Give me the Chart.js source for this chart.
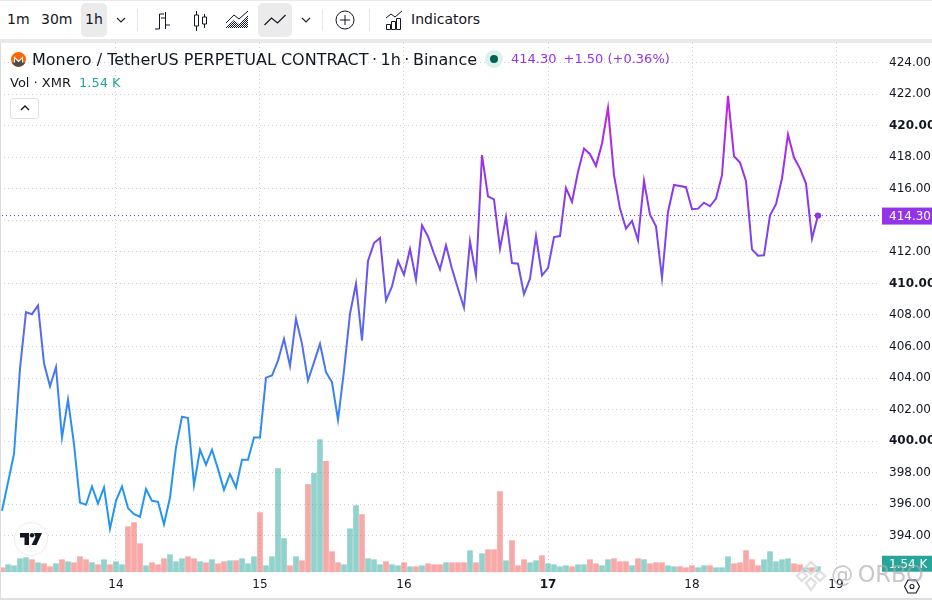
<!DOCTYPE html>
<html>
<head>
<meta charset="utf-8">
<title>Monero / TetherUS</title>
<script src="https://cdn.jsdelivr.net/npm/chart.js@4"></script>
<style>
  html,body{margin:0;padding:0;background:#fff;overflow:hidden;}
  body{width:932px;height:600px;position:relative;font-family:"DejaVu Sans",sans-serif;color:#131722;}
  canvas{position:absolute;left:0;top:0;}
  .abs{position:absolute;white-space:nowrap;}
  .band{position:absolute;background:#e9e9e9;}
  .tb{font-size:14px;line-height:18px;top:10px;}
  .hl{position:absolute;background:#ebebeb;border-radius:5px;}
  .sep{position:absolute;width:1px;background:#e6e6e6;top:9px;height:22px;}
  svg{position:absolute;overflow:visible;}
</style>
</head>
<body>
<canvas id="c" width="932" height="600"></canvas>

<!-- toolbar -->
<div class="abs" style="left:0;top:0;width:932px;height:39px;background:#fff;"></div>
<div class="band" style="left:0;top:0;width:932px;height:1px;"></div>
<div class="band" style="left:0;top:39px;width:932px;height:4px;"></div>
<div class="band" style="left:0;top:43px;width:1px;height:557px;background:#dcdcdc;"></div>
<div class="band" style="left:0;top:598px;width:932px;height:2px;background:#e0e0e0;"></div>

<div class="hl" style="left:81px;top:3px;width:26px;height:34px;"></div>
<div class="hl" style="left:258px;top:3px;width:34px;height:34px;"></div>
<div class="abs tb" style="left:7px;">1m</div>
<div class="abs tb" style="left:41px;">30m</div>
<div class="abs tb" style="left:85px;">1h</div>
<svg style="left:116px;top:17px" width="10" height="6"><path d="M1 1l4 4 4-4" fill="none" stroke="#222" stroke-width="1.1"/></svg>
<div class="sep" style="left:137px;"></div>
<svg style="left:154px;top:11px" width="16" height="20" fill="none" stroke="#131722" stroke-width="1"><path d="M5.500 3v15M1 18h4.500M5.500 3h4.500M11.500 1v17M11.500 14h4.500M7 7h4.500"/></svg>
<svg style="left:192px;top:10px" width="16" height="22" fill="none" stroke="#131722" stroke-width="1"><path d="M4.500 1v4M4.500 16v5M2.500 5h4v11h-4zM12.500 4v3M12.500 14v4M10.500 7h4v7h-4z"/></svg>
<svg style="left:225px;top:10px" width="24" height="20"><defs><pattern id="dots" width="2" height="2" patternUnits="userSpaceOnUse"><rect width="1" height="1" fill="#131722"/><rect x="1" y="1" width="1" height="1" fill="#131722"/></pattern></defs><path d="M1 17l8-7 5 4 9-9v13H1z" fill="url(#dots)"/><path d="M1 13l8-8 5 4 9-8" fill="none" stroke="#131722" stroke-width="1"/></svg>
<svg style="left:264px;top:13px" width="22" height="14"><path d="M0.500 12l7-7 6 5 8-8" fill="none" stroke="#131722" stroke-width="1.200"/></svg>
<svg style="left:301px;top:17px" width="10" height="6"><path d="M1 1l4 4 4-4" fill="none" stroke="#222" stroke-width="1.1"/></svg>
<div class="sep" style="left:322px;"></div>
<svg style="left:335px;top:10px" width="20" height="20" fill="none" stroke="#131722" stroke-width="1"><circle cx="10" cy="10" r="9"/><path d="M10 5v10M5 10h10"/></svg>
<div class="sep" style="left:369px;"></div>
<svg style="left:385px;top:10px" width="18" height="20" fill="none" stroke="#131722" stroke-width="1"><path d="M1 8l5-4 4 3 7-6M1.500 14.500h4v5h-4zM6.500 11.500h4v8h-4zM11.500 8.500h4v11h-4z"/></svg>
<div class="abs tb" style="left:411px;">Indicators</div>

<!-- legend -->
<svg style="left:11px;top:52px" width="15" height="15" viewBox="0 0 15 15"><circle cx="7.500" cy="7.500" r="7.500" fill="#ff6600"/><path d="M0.800 10.500H3.500V5.500L7.500 9.500 11.500 5.500V10.500H14.200A7.500 7.500 0 0 1 .8 10.500z" fill="#4c4c4c"/><path d="M3.500 10.500V5.500L7.500 9.500 11.500 5.500V10.500" fill="none" stroke="#fff" stroke-width="1.100"/></svg>
<div class="abs" style="left:32px;top:50px;font-size:16px;line-height:19px;">Monero / TetherUS PERPETUAL CONTRACT<span style="word-spacing:-1.600px"> · 1h · Binance</span></div>
<svg style="left:485px;top:50px" width="18" height="18"><circle cx="9" cy="9" r="9" fill="#dcf0ee"/><circle cx="9" cy="9" r="4" fill="#03614f"/></svg>
<div class="abs" style="left:511px;top:51px;font-size:13px;line-height:16px;color:#9333ea;">414.30<span style="margin-left:7px">+1.50 (+0.36%)</span></div>
<div class="abs" style="left:10px;top:75px;font-size:13px;line-height:16px;">Vol · XMR</div>
<div class="abs" style="left:79px;top:75px;font-size:13px;line-height:16px;color:#26a69a;">1.54 K</div>
<div class="abs" style="left:10px;top:98px;width:27px;height:19px;border:1px solid #e0e0e0;border-radius:3px;"></div>
<svg style="left:20px;top:105px" width="10" height="6"><path d="M1 5l4-4 4 4" fill="none" stroke="#131722" stroke-width="1.300"/></svg>

<!-- TV logo -->
<div class="abs" style="left:14px;top:522px;width:32px;height:32px;border:1px solid #ececec;border-radius:50%;background:#fff;"></div>
<svg style="left:20px;top:533px" width="22" height="12" viewBox="0 0 22 12"><path d="M0 0h9v12H4.500V4.500H0zM14 0h8l-5.500 12h-5l4-8z" fill="#131722"/><circle cx="12" cy="2.200" r="2.200" fill="#131722"/></svg>

<!-- settings -->
<svg style="left:904px;top:579px" width="16" height="15" fill="none" stroke="#131722" stroke-width="1.100"><path d="M4 1h8l3.500 6.500L12 14H4L.5 7.500z"/><circle cx="8" cy="7.500" r="2"/></svg>

<!-- watermark -->
<svg style="left:795px;top:560px;opacity:.85" width="32" height="32" viewBox="0 0 32 32" fill="none" stroke="#dcdcdc" stroke-width="2.400"><path d="M16 2l6 6-6 6-6-6zM7 11l5 5-5 5-5-5zM25 11l5 5-5 5-5-5zM16 18l5 5-5 7-5-7z"/></svg>
<div class="abs" style="left:831px;top:559px;font-size:22.500px;line-height:30px;color:rgba(170,170,170,.65);word-spacing:-3px;">@ ORBO</div>

<script>
const priceValues = [395.59,397.38,399.19,404.60,408.18,408.05,408.60,404.94,403.48,404.69,400.24,402.63,399.82,396.11,395.97,397.13,396.05,397.07,394.46,396.22,397.13,395.76,395.38,395.21,396.97,396.22,396.16,394.74,396.43,399.61,401.56,401.47,397.22,399.46,398.51,399.46,398.23,396.92,397.92,397.07,398.83,398.83,400.24,400.24,404.03,404.16,405.11,406.49,404.77,407.76,406.17,403.84,405.00,406.17,404.37,403.73,401.35,404.48,408.08,409.98,406.38,411.42,412.56,412.88,408.92,409.81,411.42,410.55,412.18,410.23,413.68,412.98,411.89,410.89,412.41,410.93,409.66,408.46,412.67,410.51,418.13,415.52,415.33,412.20,414.21,411.29,411.25,409.32,410.30,413.00,410.51,410.97,412.94,413.00,416.05,415.16,417.07,418.55,418.19,417.45,418.87,421.13,416.86,414.74,413.47,413.96,412.73,416.50,414.36,413.62,410.34,414.53,416.24,416.18,416.10,414.70,414.74,415.12,414.89,415.38,416.86,421.89,418.06,417.66,416.48,412.16,411.76,411.78,414.32,415.02,416.65,419.44,417.98,417.28,416.33,412.84,414.30];

// volume in thousands of XMR
const volumeValues = [1.23,2.16,1.85,4.00,4.31,3.70,2.77,2.46,1.54,2.46,3.70,3.08,2.77,4.62,3.70,2.77,2.16,3.70,2.16,3.08,2.16,13.85,15.08,8.62,1.85,2.77,2.16,4.00,5.23,3.08,4.00,4.62,4.00,3.08,2.77,3.70,2.46,3.08,3.39,3.39,4.00,2.46,4.62,18.16,1.85,4.62,31.70,10.20,1.85,4.62,3.39,26.80,30.20,40.60,33.90,6.16,2.77,2.16,13.20,20.30,17.55,4.00,3.70,2.16,3.08,2.16,1.85,2.77,1.54,1.54,1.85,2.46,2.16,2.16,2.77,2.77,2.77,2.77,6.47,2.77,5.54,6.77,6.77,24.60,3.39,9.54,1.85,3.70,2.77,3.39,4.93,2.46,2.16,1.54,1.85,1.54,2.16,2.16,3.70,2.46,1.85,3.70,4.00,3.08,3.08,1.85,4.00,3.70,2.46,2.77,2.77,1.85,1.54,1.54,1.23,1.85,1.23,1.85,1.85,1.23,1.23,4.62,2.46,2.77,6.47,3.70,1.85,3.70,6.16,3.08,3.70,4.00,2.46,2.16,1.23,1.23,1.54];

// 1 = up hour (green), 0 = down hour (red)
const volumeUp = [0,1,1,1,1,0,1,0,0,1,0,1,0,0,0,1,0,1,0,1,1,0,0,0,1,0,0,0,1,1,1,0,0,1,0,1,0,0,1,0,1,1,1,0,1,1,1,1,0,1,0,0,1,1,0,0,0,1,1,1,0,1,1,1,0,1,1,0,1,0,1,0,0,0,1,0,0,0,1,0,1,0,0,0,1,0,0,0,1,1,0,1,1,1,1,0,1,1,0,0,1,1,0,0,0,1,0,1,0,0,0,1,1,0,0,0,1,1,0,1,1,1,0,0,0,0,0,1,1,1,1,1,0,0,1,0,1];

const dayTickIndex = [19,43,67,91,115,139];
const dayTickLabels = ['14','15','16','17','18','19'];
const boldDays = ['17'];
const priceTicks = [394,396,398,400,402,404,406,408,410,412,414,416,418,420,422,424];
const boldPrices = [400,410,420];
const lastPriceText = '414.30';
const lastVolumeText = '1.54 K';

const gridColor = '#cfcfcf';
const upColor = 'rgba(38,166,154,0.5)';
const downColor = 'rgba(239,83,80,0.5)';
const lastColor = '#9333ea';
const tickFont = '"DejaVu Sans", sans-serif';

const indices = priceValues.map((_, i) => i);
const lastIndex = priceValues.length - 1;
const lastPrice = priceValues[lastIndex];

function lineGradient(ctx) {
  const chart = ctx.chart;
  if (!chart.chartArea) return '#7c45f0';
  const y = chart.scales.y;
  const g = chart.ctx.createLinearGradient(0, y.getPixelForValue(Math.max(...priceValues)), 0, y.getPixelForValue(Math.min(...priceValues)));
  g.addColorStop(0, '#c71fe8');
  g.addColorStop(0.19, '#9333ea');
  g.addColorStop(0.36, '#7a45f0');
  g.addColorStop(0.49, '#5f62ee');
  g.addColorStop(0.61, '#4a74f0');
  g.addColorStop(0.8, '#2892f3');
  g.addColorStop(1, '#2196f3');
  return g;
}

const sideLabels = {
  id: 'sideLabels',
  afterDatasetsDraw(chart) {
    const c = chart.ctx, y = chart.scales.y, v = chart.scales.vol, R = chart.chartArea.right + 2;
    c.save();
    c.font = '12px ' + tickFont;
    c.textAlign = 'left';
    c.textBaseline = 'middle';
    const py = y.getPixelForValue(lastPrice);
    c.fillStyle = lastColor;
    c.fillRect(R, py - 8, 50, 17);
    c.fillStyle = '#fff';
    c.fillText(lastPriceText, R + 7, py + 1);
    const vy = v.getPixelForValue(volumeValues[lastIndex]);
    c.fillStyle = '#26a69a';
    c.fillRect(R, vy - 11, 50, 16);
    c.fillStyle = '#fff';
    c.fillText(lastVolumeText, R + 7, vy - 2);
    c.restore();
  }
};

new Chart(document.getElementById('c'), {
  data: {
    datasets: [
      {
        type: 'line',
        label: 'Last price',
        yAxisID: 'y',
        data: [{x: -2, y: lastPrice}, {x: 150, y: lastPrice}],
        borderColor: '#6b3bb0',
        borderWidth: 1,
        borderDash: [1, 3],
        pointRadius: 0,
        order: 3
      },
      {
        type: 'line',
        label: 'XMRUSDT.P',
        yAxisID: 'y',
        data: indices.map(i => ({x: i, y: priceValues[i]})),
        borderColor: lineGradient,
        borderWidth: 2,
        tension: 0,
        borderJoinStyle: 'miter',
        pointRadius: c => c.dataIndex === lastIndex ? 3.200 : 0,
        pointBackgroundColor: lastColor,
        pointBorderWidth: 0,
        order: 1
      },
      {
        type: 'bar',
        label: 'Vol',
        yAxisID: 'vol',
        data: indices.map(i => ({x: i, y: volumeValues[i]})),
        backgroundColor: indices.map(i => volumeUp[i] ? upColor : downColor),
        barThickness: 5,
        order: 5
      }
    ]
  },
  plugins: [sideLabels],
  options: {
    responsive: false,
    animation: false,
    events: [],
    maintainAspectRatio: false,
    layout: {autoPadding: false, padding: {top: 43, bottom: 0, left: 0, right: 0}},
    plugins: {legend: {display: false}, tooltip: {enabled: false}},
    scales: {
      x: {
        type: 'linear',
        offset: false,
        min: -0.333,
        max: 146.333,
        afterBuildTicks: s => { s.ticks = dayTickIndex.map(v => ({value: v})); },
        afterFit: s => { s.height = 25; s.paddingLeft = 0; s.paddingRight = 0; },
        grid: {display: true, offset: false, color: gridColor, lineWidth: 1, drawTicks: false},
        border: {display: false, dash: [1, 3]},
        ticks: {
          autoSkip: false,
          maxRotation: 0,
          padding: 3,
          color: '#131722',
          font: c => ({family: tickFont, size: 12, weight: c.tick && boldDays.includes(dayTickLabels[c.index]) ? 'bold' : 'normal'}),
          callback: (v, i) => dayTickLabels[i]
        }
      },
      y: {
        position: 'right',
        min: 391.52,
        max: 425.238,
        afterBuildTicks: s => { s.ticks = priceTicks.map(v => ({value: v})); },
        afterFit: s => { s.width = 52; s.paddingTop = 0; s.paddingBottom = 0; },
        grid: {color: gridColor, lineWidth: 1, drawTicks: false},
        border: {display: false, dash: [1, 3]},
        ticks: {
          autoSkip: false,
          padding: 9,
          color: '#131722',
          font: c => ({family: tickFont, size: 12, weight: c.tick && boldPrices.includes(c.tick.value) ? 'bold' : 'normal'}),
          callback: v => v.toFixed(2)
        }
      },
      vol: {
        display: false,
        position: 'right',
        min: -1.0,
        max: 162.3
      }
    }
  }
});
</script>
</body>
</html>
